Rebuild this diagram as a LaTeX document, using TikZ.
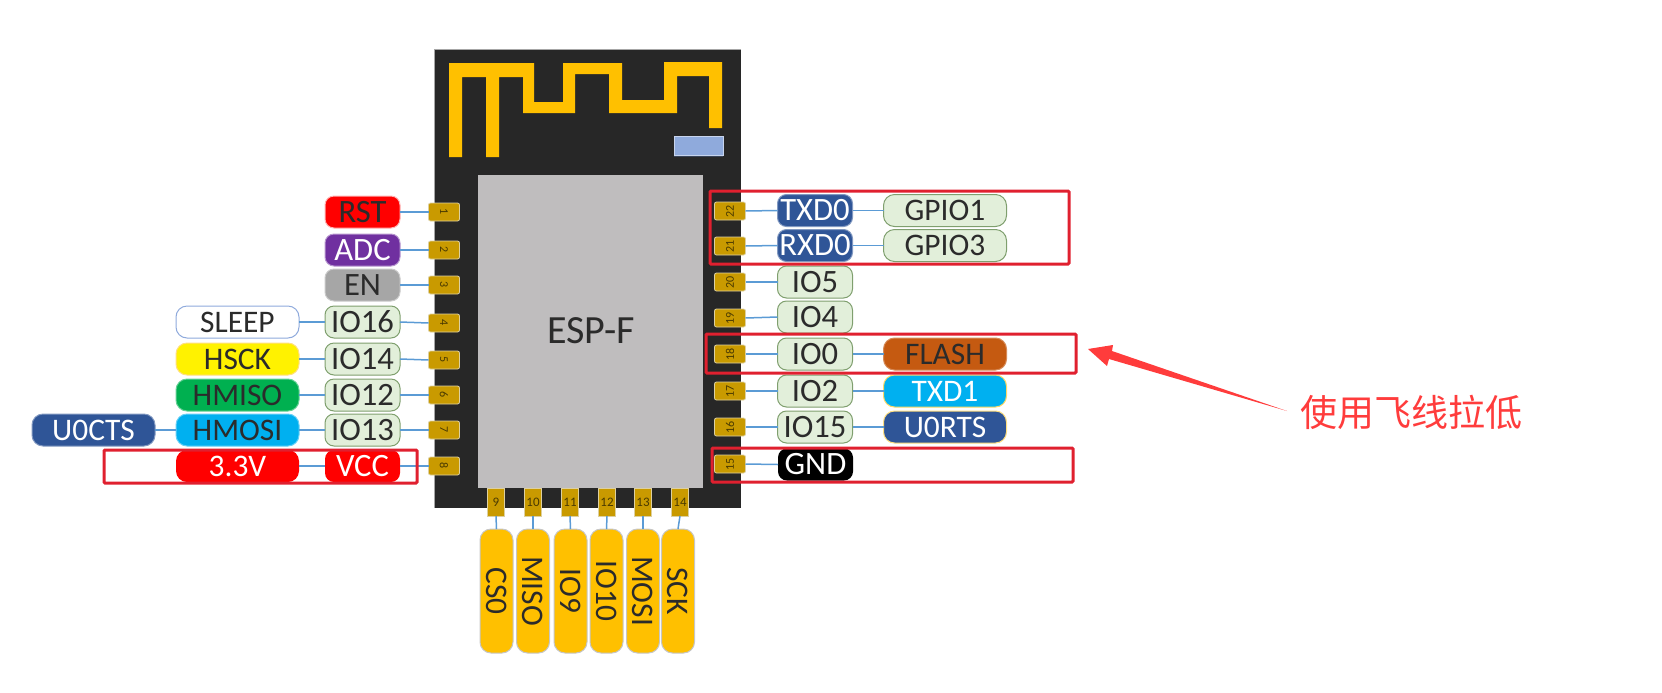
\documentclass[tikz,border=0pt]{standalone}
\usepackage{fontspec}
\setmainfont{Carlito}
\newfontfamily\cjkfont{Noto Sans CJK SC}
\definecolor{inkdark}{HTML}{2B2B2B}
\definecolor{chipblack}{HTML}{272727}
\definecolor{chipgray}{HTML}{BFBDBE}
\definecolor{gold}{HTML}{FFC000}
\definecolor{pinfill}{HTML}{C99A00}
\definecolor{pinedge}{HTML}{DDD0A0}
\definecolor{pinink}{HTML}{4A3A00}
\definecolor{wire}{HTML}{5B9BD5}
\definecolor{boxred}{HTML}{E0202F}
\definecolor{notered}{HTML}{FF3C3C}
\definecolor{iogreen}{HTML}{E2EFDA}
\definecolor{ioedge}{HTML}{7F9F6E}
\definecolor{navy}{HTML}{2F5597}
\definecolor{sky}{HTML}{00B0F0}
\definecolor{leaf}{HTML}{00B050}
\definecolor{plum}{HTML}{7030A0}
\definecolor{rust}{HTML}{C55A11}
\definecolor{ash}{HTML}{A6A6A6}
\definecolor{softblue}{HTML}{8FAADC}
\tikzset{
  x=0.5pt,y=-0.5pt,
  tag/.style={rectangle,rounded corners=4.5pt,inner sep=0pt,outer sep=0pt,minimum height=16pt,
    font=\fontsize{15.7}{16}\selectfont,text=inkdark,line width=0.5pt},
  wa/.style={tag,minimum width=37.5pt,font=\fontsize{16.3}{16}\selectfont},
  wb/.style={tag,minimum width=61.5pt,rounded corners=5.5pt},
  iotag/.style={fill=iogreen,draw=ioedge},
  redtag/.style={fill=red,draw=red!30},
  whitetext/.style={text=white},
  pinbox/.style={rectangle,rounded corners=1pt,fill=pinfill,draw=pinedge,line width=0.4pt,inner sep=0pt,outer sep=0pt,
    minimum width=15.5pt,minimum height=9pt,font=\fontsize{6}{6}\selectfont,text=pinink},
  botpin/.style={rectangle,fill=pinfill,draw=pinedge,line width=0.3pt,inner sep=0pt,outer sep=0pt,
    minimum width=8.5pt,minimum height=14pt,font=\fontsize{6.5}{7}\selectfont,text=pinink},
  pillar/.style={tag,rotate=-90,minimum width=62pt,minimum height=16.5pt,rounded corners=5.5pt,fill=gold,draw=gray!45},
  wireline/.style={draw=wire,line width=0.75pt},
  redbox/.style={draw=boxred,line width=1.5pt,rounded corners=0.5pt},
}
\newcommand{\rl}[1]{\rotatebox{-90}{#1}}
\newcommand{\rr}[1]{\rotatebox{90}{#1}}
\begin{document}
\begin{tikzpicture}
\useasboundingbox (0,0) rectangle (1662,692);
% module
\fill[gray!70] (434,49) rectangle (741,508);
\fill[chipblack] (435,50) rectangle (741,508);
\fill[chipgray] (478,175) rectangle (703,488);
\fill[gold] (449,63) -- (534,63) -- (534,102) -- (563,102) -- (563,63) -- (622,63) -- (622,100) -- (664,100) -- (664,62) -- (722,62) -- (722,128) -- (709,128) -- (709,76) -- (677,76) -- (677,113) -- (609,113) -- (609,74) -- (575,74) -- (575,113) -- (523,113) -- (523,77) -- (499,77) -- (499,157) -- (486,157) -- (486,77) -- (462,77) -- (462,157) -- (449,157) -- cycle;
\fill[black!60!softblue] (674,150) rectangle (723,157);
\fill[softblue,draw=softblue!50!white,line width=0.4pt] (674,136) rectangle (723,155);
\node[font=\fontsize{20}{22}\selectfont,text=inkdark,inner sep=0pt] (title) at (591,331) {ESP-F};
% left pins
\foreach \n/\y/\t in {p1/212/1,p2/250/2,p3/285/3,p4/323/4,p5/360/5,p6/395/6,p7/430/7,p8/466/8}
  \node[pinbox] (\n) at (444,\y) {\rl{\t}};
% right pins
\foreach \n/\y/\t in {p22/211/22,p21/246/21,p20/282/20,p19/318/19,p18/354/18,p17/391/17,p16/427/16,p15/464/15}
  \node[pinbox] (\n) at (730,\y) {\rr{\t}};
% bottom pins
\foreach \n/\x/\t in {p9/496/9,p10/533/10,p11/570/11,p12/607/12,p13/643/13,p14/680/14}
  \node[botpin] (\n) at (\x,502) {\t};
% left labels
\node[wa,redtag] (rst) at (362.5,212) {RST};
\node[wa,fill=plum,draw=plum!50,whitetext] (adc) at (362.5,250) {ADC};
\node[wa,fill=ash,draw=ash!60] (en) at (362.5,285) {EN};
\node[wa,iotag] (io16) at (362.5,322) {IO16};
\node[wa,iotag] (io14) at (362.5,359) {IO14};
\node[wa,iotag] (io12) at (362.5,395) {IO12};
\node[wa,iotag] (io13) at (362.5,430) {IO13};
\node[wa,fill=red,whitetext] (vcc) at (362.5,466) {VCC};
\node[wb,fill=white,draw=softblue] (sleep) at (237.5,322) {SLEEP};
\node[wb,fill=yellow,draw=gold!50] (hsck) at (237.5,359) {HSCK};
\node[wb,fill=leaf,draw=leaf!60] (hmiso) at (237.5,395) {HMISO};
\node[wb,fill=sky,draw=sky!60] (hmosi) at (237.5,430) {HMOSI};
\node[wb,fill=red,whitetext] (v33) at (237.5,466) {3.3V};
\node[wb,fill=navy,draw=navy!60,whitetext] (u0cts) at (93.5,430) {U0CTS};
% right labels
\node[wa,fill=navy,draw=navy!60,whitetext] (txd0) at (815,210.5) {TXD0};
\node[wa,fill=navy,draw=navy!60,whitetext] (rxd0) at (815,245.5) {RXD0};
\node[wa,iotag] (io5) at (815,282) {IO5};
\node[wa,iotag] (io4) at (815,317) {IO4};
\node[wa,iotag] (io0) at (815,354) {IO0};
\node[wa,iotag] (io2) at (815,391) {IO2};
\node[wa,iotag] (io15) at (815,427) {IO15};
\node[wa,fill=black,whitetext] (gnd) at (815.5,464.5) {GND};
\node[wb,iotag] (gpio1) at (945,210.5) {GPIO1};
\node[wb,iotag] (gpio3) at (945,245.5) {GPIO3};
\node[wb,fill=rust,draw=rust!70] (flash) at (945,354) {FLASH};
\node[wb,fill=sky,draw=gold!60,whitetext] (txd1) at (945,391) {TXD1};
\node[wb,fill=navy,draw=gold!50,whitetext] (u0rts) at (945,427) {U0RTS};
% bottom pillars
\foreach \n/\x/\t in {cs/496.5/CS0,miso/533/MISO,ioix/570.5/IO9,ioten/606.5/IO10,mosi/643/MOSI,sck/678/SCK}
  \node[pillar] (\n) at (\x,591) {\t};
% connectors
\foreach \a/\b in {rst/p1,adc/p2,en/p3,io16/p4,io14/p5,io12/p6,io13/p7,vcc/p8,
  sleep/io16,hsck/io14,hmiso/io12,hmosi/io13,v33/vcc,u0cts/hmosi}
  \draw[wireline] (\a.east) -- (\b.west);
\foreach \a/\b in {p22/txd0,p21/rxd0,p20/io5,p19/io4,p18/io0,p17/io2,p16/io15,p15/gnd,
  txd0/gpio1,rxd0/gpio3,io0/flash,io2/txd1,io15/u0rts}
  \draw[wireline] (\a.east) -- (\b.west);
\foreach \a/\b in {p9/cs,p10/miso,p11/ioix,p12/ioten,p13/mosi,p14/sck}
  \draw[wireline] (\a.south) -- (\b.west);
% red frames
\draw[redbox] (710,191) rectangle (1069,264);
\draw[redbox] (706,334) rectangle (1076,373);
\draw[redbox] (712,448) rectangle (1073,482);
\draw[redbox] (104,450) rectangle (417,483);
% callout
\node[font=\cjkfont\fontsize{18.5}{20}\selectfont,text=notered,inner sep=0pt] (note) at (1411.5,412) {使用飞线拉低};
\coordinate (tail) at (1287,411);
\coordinate (tip) at (1088,349);
\fill[notered] (tip) -- (1113,345) -- (1112,351) -- (tail) -- (1109,359) -- (1107,366) -- cycle;
\end{tikzpicture}
\end{document}
